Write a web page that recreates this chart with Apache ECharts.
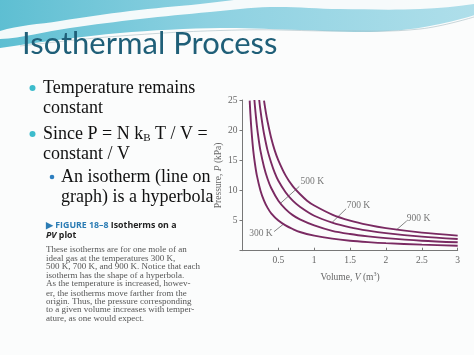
<!DOCTYPE html>
<html>
<head>
<meta charset="utf-8">
<script src="https://cdn.jsdelivr.net/npm/echarts@6/dist/echarts.min.js"></script>
<style>
    html, body { margin: 0; padding: 0; background: #fbfcfc; }
    #slide { width: 474px; height: 355px; }
</style>
</head>
<body>
<div id="slide"></div>
<script>
// isotherm points (volume m3 / pressure kPa)
var vol300 = [0.1, 0.11, 0.125, 0.15, 0.175, 0.2, 0.25, 0.3, 0.35, 0.4, 0.5, 0.6, 0.7, 0.8, 1, 1.25, 1.5, 1.75, 2, 2.5, 3];
var pres300 = [24.9, 22.7, 20.0, 16.6, 14.3, 12.5, 10.0, 8.3, 7.1, 6.2, 5.0, 4.2, 3.6, 3.1, 2.5, 2.0, 1.66, 1.43, 1.25, 1.0, 0.83];
var vol500 = [0.166, 0.18, 0.2, 0.225, 0.25, 0.3, 0.35, 0.4, 0.5, 0.6, 0.7, 0.8, 1, 1.25, 1.5, 1.75, 2, 2.5, 3];
var pres500 = [25.0, 23.1, 20.8, 18.5, 16.6, 13.9, 11.9, 10.4, 8.3, 6.9, 5.9, 5.2, 4.2, 3.3, 2.77, 2.38, 2.08, 1.66, 1.39];
var vol700 = [0.233, 0.25, 0.275, 0.3, 0.35, 0.4, 0.45, 0.5, 0.6, 0.7, 0.8, 1, 1.25, 1.5, 1.75, 2, 2.5, 3];
var pres700 = [25.0, 23.3, 21.2, 19.4, 16.6, 14.6, 12.9, 11.6, 9.7, 8.3, 7.3, 5.8, 4.66, 3.88, 3.33, 2.91, 2.33, 1.94];
var vol900 = [0.3, 0.325, 0.35, 0.4, 0.45, 0.5, 0.6, 0.7, 0.8, 0.9, 1, 1.25, 1.5, 1.75, 2, 2.5, 3];
var pres900 = [24.9, 23.0, 21.4, 18.7, 16.6, 15.0, 12.5, 10.7, 9.4, 8.3, 7.5, 6.0, 5.0, 4.28, 3.74, 3.0, 2.5];

// curve labels and their leader lines
var labelNames = ['300 K', '500 K', '700 K', '900 K'];
var labelX = [0.42, 0.81, 1.453, 2.29];
var labelY = [2.9, 11.4, 7.45, 5.4];
var leaderFrom = [[0.44, 3.17], [0.533, 7.9], [1.25, 4.7], [2.15, 3.5]];
var leaderTo = [[0.57, 4.4], [0.792, 10.67], [1.444, 6.95], [2.29, 4.95]];

// slide text
var bulletLines = ['Temperature remains', 'constant', '{t|Since P = N k}{s|B}{t| T / V =}', 'constant / V'];
var subLines = ['An isotherm (line on', 'graph) is a hyperbola'];
var captionLines = [
    'These isotherms are for one mole of an',
    'ideal gas at the temperatures 300 K,',
    '500 K, 700 K, and 900 K. Notice that each',
    'isotherm has the shape of a hyperbola.',
    'As the temperature is increased, howev-',
    'er, the isotherms move farther from the',
    'origin. Thus, the pressure corresponding',
    'to a given volume increases with temper-',
    'ature, as one would expect.'
];

var curveColor = '#7a2a62';
var serif = '"Liberation Serif", "DejaVu Serif", serif';

var toPairs = function (xs, ys) {
    return xs.map(function (x, i) { return [x, ys[i]]; });
};

var makeCurve = function (name, xs, ys) {
    return {
        name: name,
        type: 'line',
        smooth: 0.3,
        showSymbol: false,
        silent: true,
        lineStyle: { color: curveColor, width: 1.9 },
        data: toPairs(xs, ys)
    };
};

var graphics = [
    // top waves
    {
        type: 'polygon', z: -5,
        shape: {
            smooth: 0.3,
            points: [[-20, -20], [494, -20], [494, 6], [430, 26], [370, 32], [300, 30], [220, 28], [120, 33], [0, 48], [-20, 54]]
        },
        style: {
            fill: new echarts.graphic.LinearGradient(0, 0, 1, 0, [
                { offset: 0, color: '#57bcd0' },
                { offset: 0.45, color: '#8dd1e1' },
                { offset: 1, color: '#b2e0eb' }
            ])
        }
    },
    {
        type: 'polygon', z: -4,
        shape: {
            smooth: 0.35,
            points: [[0, 31], [60, 21], [130, 11], [200, 4], [250, -1], [480, -2], [480, 3], [420, 9], [340, 9], [270, 7], [210, 12], [140, 19], [70, 28], [0, 39]]
        },
        style: { fill: '#fbfcfc', opacity: 0.95 }
    },
    {
        type: 'polyline', z: -3,
        shape: {
            smooth: 0.4,
            points: [[20, 46], [120, 36], [240, 30], [340, 31], [420, 29], [474, 17]]
        },
        style: { stroke: '#9fb8bf', lineWidth: 0.8, opacity: 0.7 }
    },
    // title
    {
        type: 'text', left: 22, top: 28,
        style: { text: 'Isothermal Process', fill: '#1f5f78', font: '31px Lato, "Open Sans", sans-serif' }
    }
];

// bullets
var bulletY = [88, 108, 134, 154];
bulletLines.forEach(function (line, i) {
    graphics.push({
        type: 'text', x: 43, y: bulletY[i],
        style: {
            text: line, fill: '#111', font: '18px ' + serif, verticalAlign: 'middle',
            rich: {
                t: { fontSize: 18, fontFamily: serif, fill: '#111' },
                s: { fontSize: 11, fontFamily: serif, fill: '#111', padding: [9, 0, 0, 0] }
            }
        }
    });
});
[88, 134].forEach(function (y) {
    graphics.push({ type: 'circle', shape: { cx: 32.5, cy: y, r: 3 }, style: { fill: '#3dbccc' } });
});
var subY = [177, 197];
subLines.forEach(function (line, i) {
    graphics.push({
        type: 'text', x: 61, y: subY[i],
        style: { text: line, fill: '#111', font: '18px ' + serif, verticalAlign: 'middle' }
    });
});
graphics.push({ type: 'circle', shape: { cx: 52, cy: 177, r: 2.3 }, style: { fill: '#2d7fc0' } });

// figure caption
graphics.push({
    type: 'text', x: 46, y: 225.7,
    style: {
        text: '{b|\u25B6 FIGURE 18\u20138}{k| Isotherms on a}', verticalAlign: 'middle',
        rich: {
            b: { fontSize: 8.8, fontWeight: 'bold', fontFamily: '"Open Sans", sans-serif', fill: '#2b7cb4' },
            k: { fontSize: 8.8, fontWeight: 'bold', fontFamily: '"Open Sans", sans-serif', fill: '#222' }
        }
    }
});
graphics.push({
    type: 'text', x: 46, y: 235,
    style: {
        text: '{i|PV}{k| plot}', verticalAlign: 'middle',
        rich: {
            i: { fontSize: 8.8, fontWeight: 'bold', fontStyle: 'italic', fontFamily: '"Open Sans", sans-serif', fill: '#222' },
            k: { fontSize: 8.8, fontWeight: 'bold', fontFamily: '"Open Sans", sans-serif', fill: '#222' }
        }
    }
});
var captionY = [249.3, 258.3, 266.7, 275.7, 284, 293.3, 302, 310, 318.3, 326.7];
captionLines.forEach(function (line, i) {
    graphics.push({
        type: 'text', x: 46, y: captionY[i],
        style: { text: line, fill: '#555', font: '9px ' + serif, verticalAlign: 'middle' }
    });
});

var series = [
    makeCurve('300 K', vol300, pres300),
    makeCurve('500 K', vol500, pres500),
    makeCurve('700 K', vol700, pres700),
    makeCurve('900 K', vol900, pres900)
];

// leader lines
series.push({
    type: 'lines',
    coordinateSystem: 'cartesian2d',
    silent: true,
    lineStyle: { color: '#666', width: 0.8, opacity: 1 },
    data: leaderFrom.map(function (p, i) { return { coords: [p, leaderTo[i]] }; })
});

// curve name labels
series.push({
    type: 'scatter',
    symbolSize: 0,
    silent: true,
    label: {
        show: true,
        distance: 0,
        color: '#555',
        fontSize: 9.5,
        fontFamily: serif,
        formatter: function (p) { return labelNames[p.dataIndex]; }
    },
    data: labelX.map(function (x, i) {
        return { value: [x, labelY[i]], label: { position: i === 0 ? 'left' : 'right' } };
    })
});

var chart = echarts.init(document.getElementById('slide'));
chart.setOption({
    backgroundColor: '#fbfcfc',
    animation: false,
    graphic: graphics,
    grid: { left: 242.5, right: 16.3, top: 100, bottom: 104.3 },
    xAxis: {
        type: 'value', min: 0, max: 3, interval: 0.5,
        name: '{t|Volume, }{i|V}{t| (m}{s|3}{t|)}',
        nameLocation: 'middle', nameGap: 21,
        nameTextStyle: {
            rich: {
                t: { fontSize: 9.5, fontFamily: serif, color: '#666' },
                i: { fontSize: 9.5, fontFamily: serif, fontStyle: 'italic', color: '#666' },
                s: { fontSize: 6, fontFamily: serif, color: '#666', padding: [0, 0, 6, 0] }
            }
        },
        axisLine: { lineStyle: { color: '#777', width: 1 } },
        axisTick: { inside: true, length: 3, lineStyle: { color: '#777' } },
        axisLabel: {
            color: '#666', fontSize: 9.5, fontFamily: serif, margin: 5,
            formatter: function (v) { return v === 0 ? '' : String(v); }
        },
        splitLine: { show: false }
    },
    yAxis: {
        type: 'value', min: 0, max: 25, interval: 5,
        name: '{t|Pressure, }{i|P}{t| (kPa)}',
        nameLocation: 'middle', nameGap: 19,
        nameTextStyle: {
            rich: {
                t: { fontSize: 9.5, fontFamily: serif, color: '#666' },
                i: { fontSize: 9.5, fontFamily: serif, fontStyle: 'italic', color: '#666' }
            }
        },
        axisLine: { show: true, lineStyle: { color: '#777', width: 1 } },
        axisTick: { show: true, length: 3, lineStyle: { color: '#777' } },
        axisLabel: {
            color: '#666', fontSize: 9.5, fontFamily: serif, margin: 5,
            formatter: function (v) { return v === 0 ? '' : String(v); }
        },
        splitLine: { show: false }
    },
    series: series
});

window.addEventListener('resize', function () {
    chart.resize();
});
</script>
</body>
</html>
